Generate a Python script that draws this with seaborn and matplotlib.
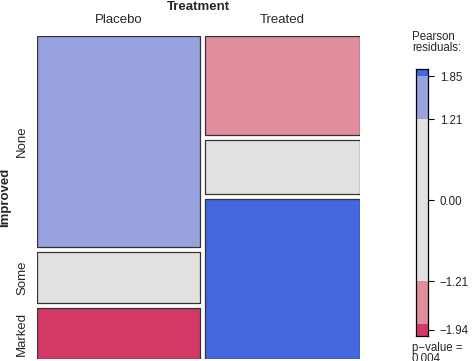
import numpy as np
import seaborn as sns
import matplotlib.pyplot as plt

# Arthritis data (counts)
treatments = ["Placebo", "Treated"]
improved = ["None", "Some", "Marked"]
placebo_counts = [29, 7, 7]
treated_counts = [13, 7, 21]

# shading cut-offs and legend labels
cutoffs = [1.21, 1.85]
legend_ticks = [1.85, 1.21, 0.00, -1.21, -1.94]
legend_labels = ["1.85", "1.21", "0.00", "\u22121.21", "\u22121.94"]
p_value = "0.004"

sns.set_style("white")
plt.rcParams["font.family"] = ["Liberation Sans", "DejaVu Sans"]

counts = np.array([placebo_counts, treated_counts], dtype=float)
n = counts.sum()
col_tot = counts.sum(axis=1)
row_tot = counts.sum(axis=0)
expected = np.outer(col_tot, row_tot) / n
resid = (counts - expected) / np.sqrt(expected)

pos_full, pos_light = "#4267DE", "#98A2DF"
neg_full, neg_light = "#D23A65", "#E08D9D"
grey = "#E1E1E1"


def shade(r):
    if r > cutoffs[1]:
        return pos_full
    if r > cutoffs[0]:
        return pos_light
    if r < -cutoffs[1]:
        return neg_full
    if r < -cutoffs[0]:
        return neg_light
    return grey


W, H = 474, 361
fig = plt.figure(figsize=(W / 100, H / 100), dpi=100)

# main mosaic axes (pixel box 37..360 x 36..359)
ax = fig.add_axes([37 / W, (H - 359) / H, 323 / W, 323 / H])
gx = 5 / 318
gy = 5 / 313
x0 = 0.0
for i, t in enumerate(treatments):
    w = col_tot[i] / n
    y0 = 0.0
    for j, lev in enumerate(improved):
        h = counts[i, j] / col_tot[i]
        ax.bar(x0, h, width=w, bottom=y0, align="edge",
               color=shade(resid[i, j]), edgecolor="#333333", linewidth=0.9)
        y0 += h + gy
    x0 += w + gx
ax.set_xlim(0, 1 + gx)
ax.set_ylim(1 + 2 * gy, 0)
ax.axis("off")

# column labels
x0 = 0.0
for i, t in enumerate(treatments):
    w = col_tot[i] / n
    ax.text(x0 + w / 2, -0.05, t, ha="center", va="center", fontsize=9.5)
    x0 += w + gx
ax.text(0.5 + gx / 2, -0.092, "Treatment", ha="center", va="center",
        fontsize=9.5, fontweight="bold")

# row labels, centred on the first column
y0 = 0.0
for j, lev in enumerate(improved):
    h = counts[0, j] / col_tot[0]
    ax.text(-0.047, y0 + h / 2, lev, ha="center", va="center",
            rotation=90, fontsize=9.5)
    y0 += h + gy
ax.text(-0.1, 0.5 + gy, "Improved", ha="center", va="center",
        rotation=90, fontsize=9.5, fontweight="bold")

# legend bar
lax = fig.add_axes([416 / W, (H - 336) / H, 12 / W, 267 / H])
lo, hi = -2.03, 1.96
edges = [lo, -cutoffs[1], -cutoffs[0], cutoffs[0], cutoffs[1], hi]
seg_cols = [neg_full, neg_light, grey, pos_light, pos_full]
for k in range(len(seg_cols)):
    lax.bar(0, edges[k + 1] - edges[k], width=1, bottom=edges[k],
            align="edge", color=seg_cols[k], linewidth=0)
lax.set_xlim(0, 1)
lax.set_ylim(lo, hi)
lax.set_xticks([])
lax.yaxis.tick_right()
lax.set_yticks(legend_ticks)
lax.set_yticklabels(legend_labels, fontsize=8.3)
lax.tick_params(axis="y", length=4.5, width=0.8, pad=4, color="black",
                right=True, left=False)
for s in lax.spines.values():
    s.set_visible(True)
    s.set_color("black")
    s.set_linewidth(0.9)

fig.text(412 / W, 1 - 31 / H, "Pearson\nresiduals:", ha="left", va="top",
         fontsize=8.3, linespacing=0.9)
fig.text(412 / W, 1 - 342 / H, "p\u2212value =\n" + p_value, ha="left",
         va="top", fontsize=8.3, linespacing=0.9)

fig.savefig("out.png", dpi=100)
